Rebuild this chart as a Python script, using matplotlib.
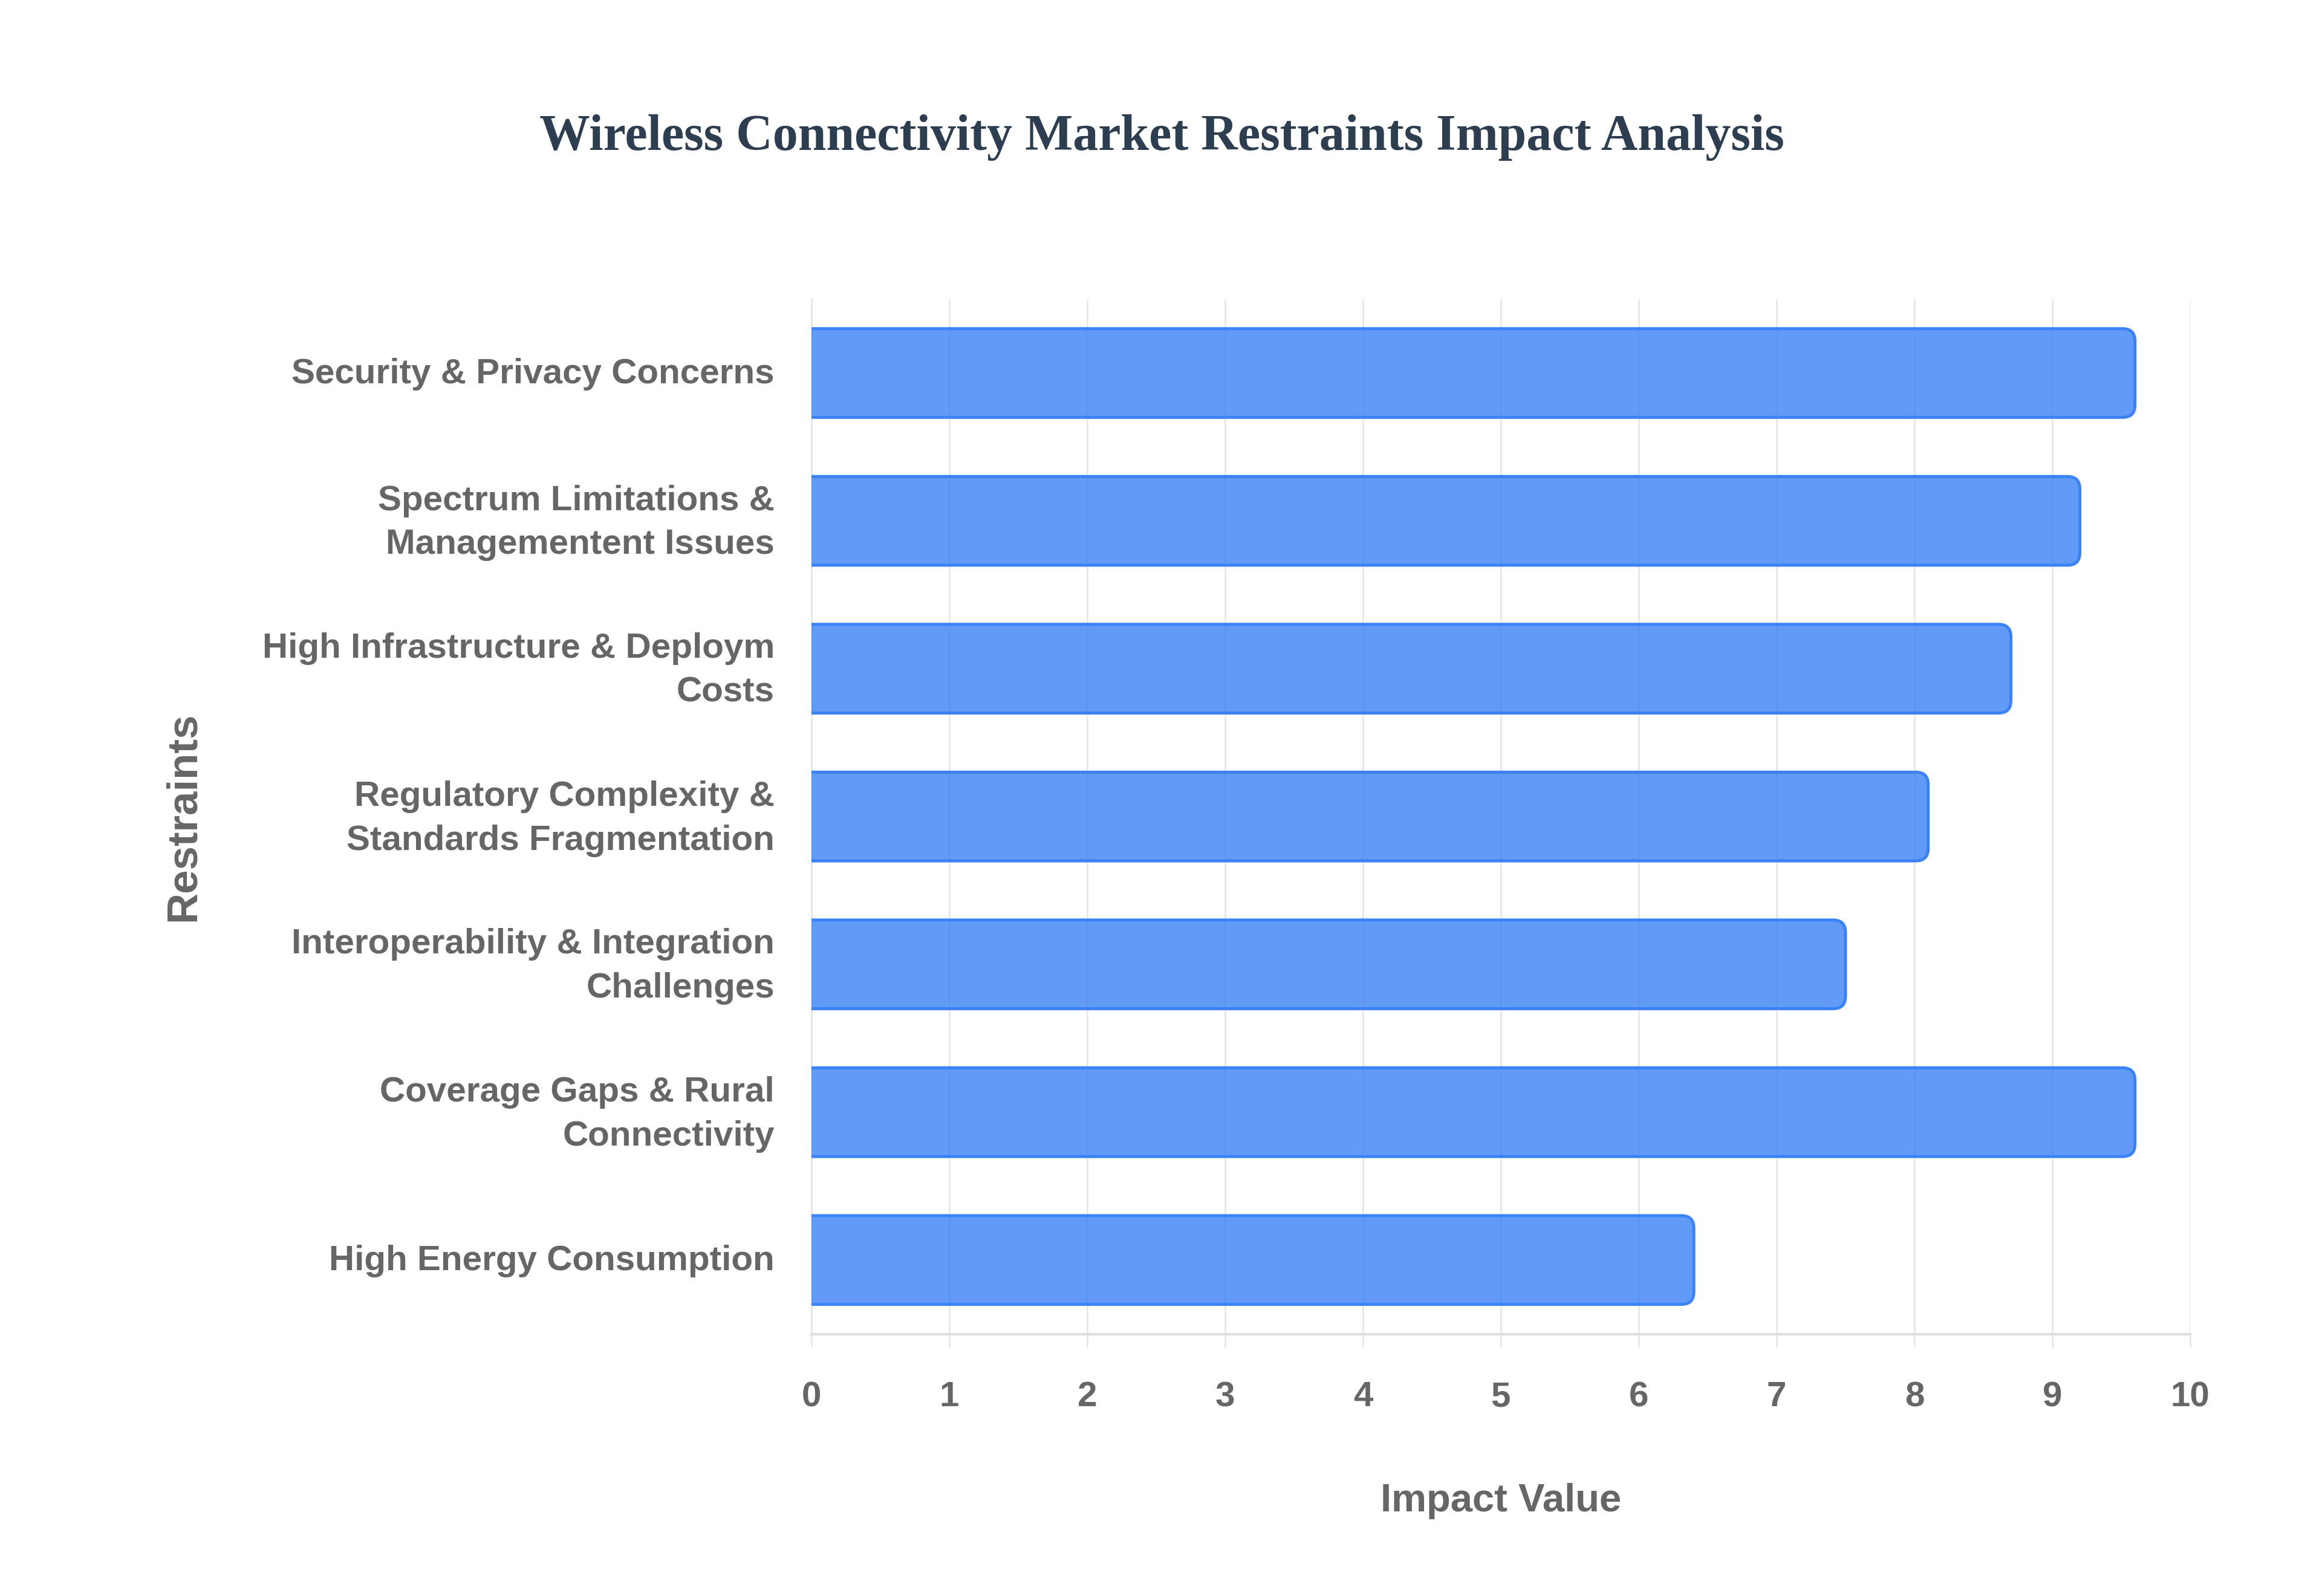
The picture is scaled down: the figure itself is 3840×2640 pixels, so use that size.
import matplotlib
matplotlib.use("Agg")
import matplotlib.pyplot as plt
import matplotlib.transforms as mtransforms
from matplotlib.patches import FancyBboxPatch

categories = [
    "Security & Privacy Concerns",
    "Spectrum Limitations &\nManagementent Issues",
    "High Infrastructure & Deploym\nCosts",
    "Regulatory Complexity &\nStandards Fragmentation",
    "Interoperability & Integration\nChallenges",
    "Coverage Gaps & Rural\nConnectivity",
    "High Energy Consumption",
]
impact_values = [9.6, 9.2, 8.7, 8.1, 7.5, 9.6, 6.4]
x_ticks = [0, 1, 2, 3, 4, 5, 6, 7, 8, 9, 10]

plt.rcParams['font.family'] = ['Liberation Sans', 'DejaVu Sans']

fig = plt.figure(figsize=(19.2, 13.2), dpi=200)
ax = fig.add_axes([0.3495, 0.1642, 0.5937, 0.6484])

face = (59/255, 130/255, 246/255, 0.8)
edge = "#3B82F6"

ypos = list(range(len(categories)))
bars = ax.barh(ypos, impact_values, height=0.6, color="none", edgecolor="none", zorder=3)
for b in bars:
    x0, y0, w, h = b.get_x(), b.get_y(), b.get_width(), b.get_height()
    patch = FancyBboxPatch((x0 - 0.3, y0), w + 0.3, h,
                           boxstyle="round,pad=0,rounding_size=0.09",
                           mutation_aspect=0.93,
                           facecolor=face, edgecolor=edge, linewidth=1.8,
                           zorder=3, clip_on=True)
    ax.add_patch(patch)

ax.set_xlim(0, 10)
ax.set_ylim(len(categories) - 0.5, -0.5)
ax.set_yticks(ypos)
ax.set_yticklabels(categories)
ax.set_xticks(x_ticks)
ax.set_xticklabels([str(t) for t in x_ticks])

ax.tick_params(axis="y", length=0, pad=22)
ax.tick_params(axis="x", length=8, width=0.9, color="#E5E5E5", pad=20)

for lab in ax.get_yticklabels() + ax.get_xticklabels():
    lab.set_fontweight("bold")
    lab.set_fontsize(21)
    lab.set_color("#666666")
for lab in ax.get_yticklabels():
    lab.set_linespacing(1.45)
    dy = 12 if "\n" in lab.get_text() else 4
    lab.set_transform(lab.get_transform() +
                      mtransforms.ScaledTranslation(0, dy / 200, fig.dpi_scale_trans))

ax.grid(axis="x", color="#E5E5E5", linewidth=0.9, zorder=0)
ax.set_axisbelow(True)
for s in ["top", "right"]:
    ax.spines[s].set_visible(False)
ax.spines["left"].set_color("#E5E5E5")
ax.spines["left"].set_linewidth(0.9)
ax.spines["bottom"].set_color("#E0E0E0")
ax.spines["bottom"].set_linewidth(1.6)

ax.set_xlabel("Impact Value", fontsize=23.5, fontweight="bold", color="#666666")
ax.set_ylabel("Restraints", fontsize=25.5, fontweight="bold", color="#666666")
ax.xaxis.set_label_coords(0.5, -0.1615)
ax.xaxis.label.set_va("center")
ax.yaxis.set_label_coords(-0.4554, 0.5)
ax.yaxis.label.set_va("center")

fig.text(0.5003, 1 - 93/1078, "Wireless Connectivity Market Restraints Impact Analysis",
         ha="center", va="center", fontsize=30.2, fontweight="bold",
         family=["Liberation Serif", "DejaVu Serif"], color="#2C3E50")

fig.savefig("out.png", dpi=200, facecolor="white")
